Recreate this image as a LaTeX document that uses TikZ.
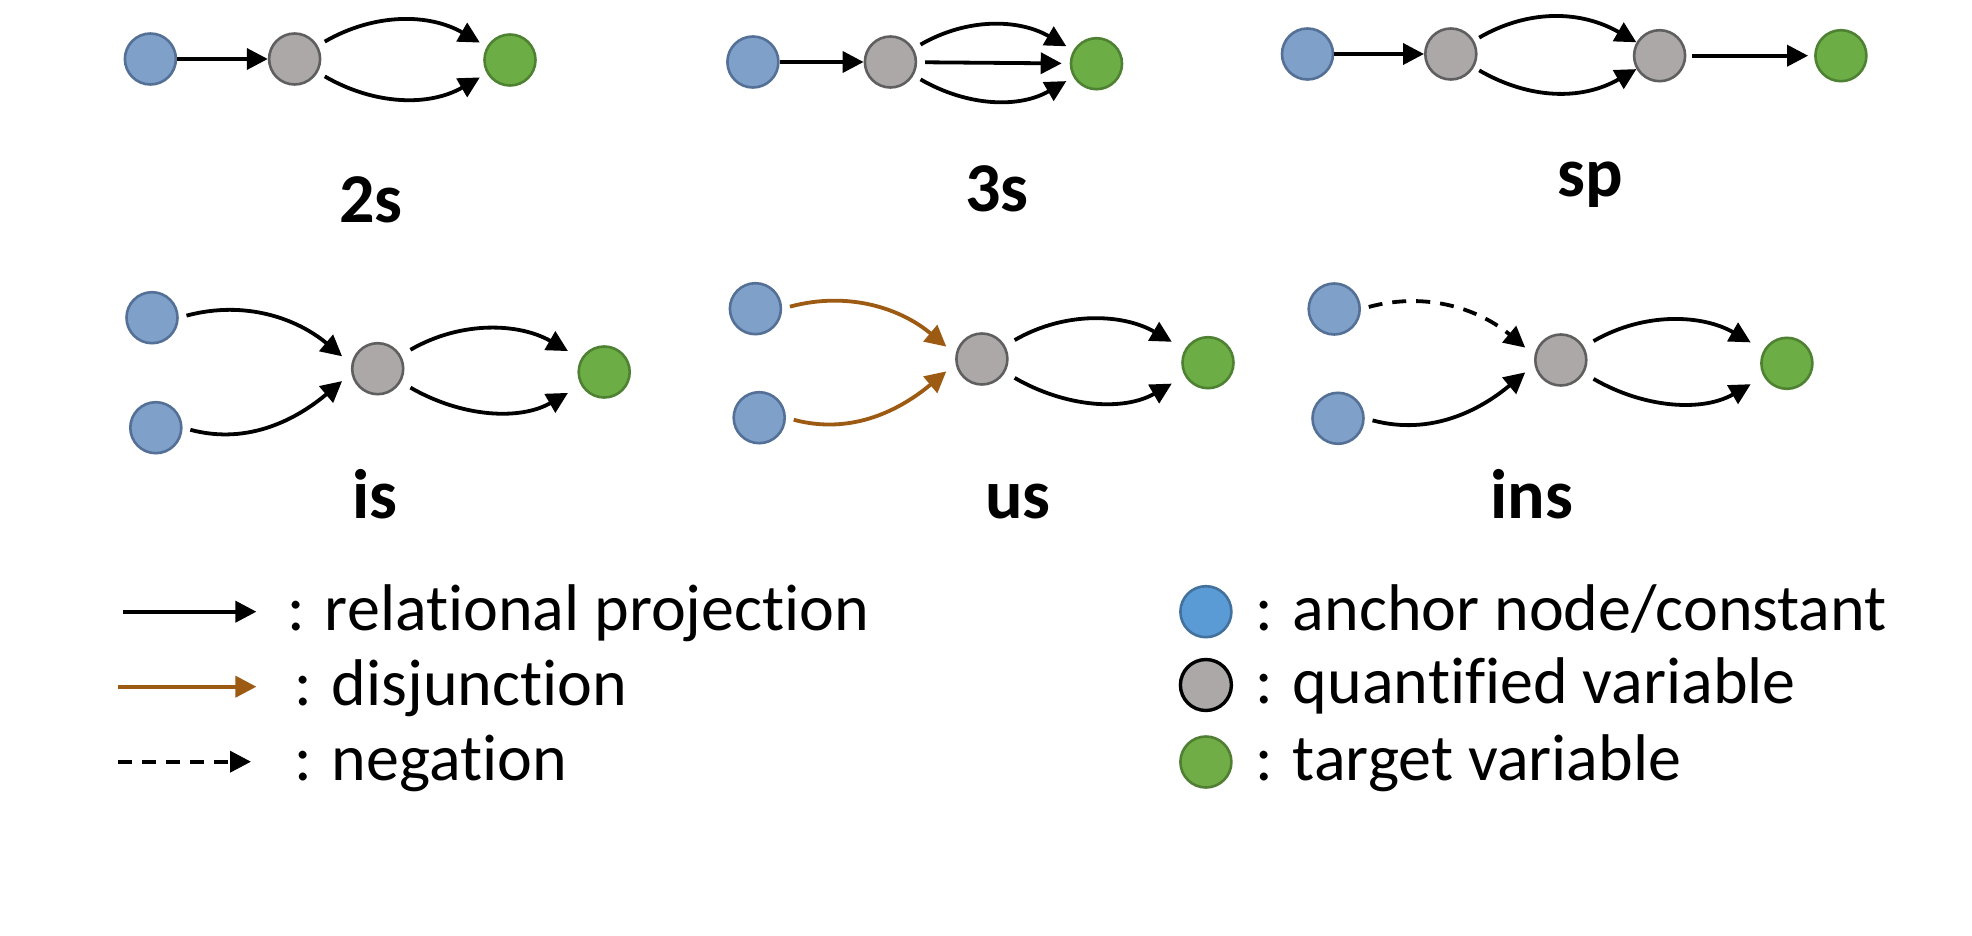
\documentclass[tikz,border=0pt]{standalone}
\usepackage{fontspec}
\setmainfont{Carlito}[Ligatures=NoCommon]
\usetikzlibrary{arrows.meta}
\definecolor{ancF}{RGB}{127,160,200}
\definecolor{ancD}{RGB}{84,112,150}
\definecolor{qF}{RGB}{172,168,168}
\definecolor{qD}{RGB}{95,95,95}
\definecolor{tF}{RGB}{108,173,70}
\definecolor{tD}{RGB}{78,130,50}
\definecolor{brn}{RGB}{156,90,18}
\definecolor{lgAncF}{RGB}{91,155,213}
\definecolor{lgAncD}{RGB}{65,113,156}
\definecolor{lgTF}{RGB}{112,173,71}
\definecolor{lgTD}{RGB}{80,126,50}
\begin{document}
\begin{tikzpicture}[x=0.5pt,y=0.5pt,
  vtx/.style={circle, draw, line width=1.3pt, minimum size=25.5pt, inner sep=0pt},
  anc/.style={vtx, fill=ancF, draw=ancD},
  qv/.style={vtx, fill=qF, draw=qD},
  tv/.style={vtx, fill=tF, draw=tD},
  rel/.style={line width=1.9pt, -{Triangle[length=10.5pt,width=10.5pt]}},
  dis/.style={rel, draw=brn},
  neg/.style={rel, dash pattern=on 7pt off 5pt},
  lbl/.style={font=\bfseries\fontsize{35pt}{40pt}\selectfont, anchor=base, inner sep=0pt},
  leg/.style={font=\fontsize{33pt}{38pt}\selectfont, anchor=base west, inner sep=0pt}]
\useasboundingbox (0,0) rectangle (1972,-936);
\fill[white] (0,0) rectangle (1972,-936);

% 2s
\node[anc] (a1) at (150.4,-59) {};
\node[qv] (b1) at (294.6,-59) {};
\node[tv] (c1) at (510,-60) {};
\draw[rel] (a1) -- (b1);
\draw[rel, shorten <=4pt, shorten >=4pt] (b1) to[out=30,in=150] (c1);
\draw[rel, shorten <=4pt, shorten >=4pt] (b1) to[out=-30,in=-150] (c1);
\node[lbl] (l1) at (371,-223) {2s};

% 3s
\node[anc] (a2) at (752.9,-62) {};
\node[qv] (b2) at (890.4,-62) {};
\node[tv] (c2) at (1096.5,-63.7) {};
\draw[rel] (a2) -- (b2);
\draw[rel, shorten <=4pt, shorten >=4pt] (b2) to[out=30,in=150] (c2);
\draw[rel, shorten <=4pt, shorten >=4pt] (b2) -- (c2);
\draw[rel, shorten <=4pt, shorten >=4pt] (b2) to[out=-30,in=-150] (c2);
\node[lbl] (l2) at (997,-212) {3s};

% sp
\node[anc] (a3) at (1307.5,-54) {};
\node[qv] (b3) at (1450.8,-54) {};
\node[qv] (d3) at (1659.6,-55.7) {};
\node[tv] (c3) at (1840.9,-55.7) {};
\draw[rel] (a3) -- (b3);
\draw[rel, shorten <=3pt] (b3) to[out=30,in=150] (d3);
\draw[rel, shorten <=3pt] (b3) to[out=-30,in=-150] (d3);
\draw[rel, shorten <=3pt, shorten >=3pt] (d3) -- (c3);
\node[lbl] (l3) at (1590,-197) {sp};

% is
\node[anc] (a4) at (152,-317.7) {};
\node[anc] (e4) at (155.8,-427.7) {};
\node[qv] (b4) at (377.7,-368.7) {};
\node[tv] (c4) at (604.2,-372) {};
\draw[rel, shorten <=4pt, shorten >=6pt] (a4.east) to[out=15,in=140] (b4.170);
\draw[rel, shorten <=4pt, shorten >=6pt] (e4.east) to[out=-15,in=-140] (b4.190);
\draw[rel, shorten <=5.5pt, shorten >=7.5pt] (b4) to[out=30,in=150] (c4);
\draw[rel, shorten <=5.5pt, shorten >=7.5pt] (b4) to[out=-30,in=-150] (c4);
\node[lbl] (l4) at (375,-518) {is};

% us
\node[anc] (a5) at (755.4,-308.7) {};
\node[anc] (e5) at (759.2,-417.7) {};
\node[qv] (b5) at (981.9,-359) {};
\node[tv] (c5) at (1208,-362.7) {};
\draw[dis, shorten <=4pt, shorten >=6pt] (a5.east) to[out=15,in=140] (b5.170);
\draw[dis, shorten <=4pt, shorten >=6pt] (e5.east) to[out=-15,in=-140] (b5.190);
\draw[rel, shorten <=5.5pt, shorten >=7.5pt] (b5) to[out=30,in=150] (c5);
\draw[rel, shorten <=5.5pt, shorten >=7.5pt] (b5) to[out=-30,in=-150] (c5);
\node[lbl] (l5) at (1018,-518) {us};

% ins
\node[anc] (a6) at (1334.2,-309) {};
\node[anc] (e6) at (1338,-418.3) {};
\node[qv] (b6) at (1560.8,-360) {};
\node[tv] (c6) at (1786.9,-363.3) {};
\draw[neg, shorten <=4pt, shorten >=6pt] (a6.east) to[out=15,in=140] (b6.170);
\draw[rel, shorten <=4pt, shorten >=6pt] (e6.east) to[out=-15,in=-140] (b6.190);
\draw[rel, shorten <=5.5pt, shorten >=7.5pt] (b6) to[out=30,in=150] (c6);
\draw[rel, shorten <=5.5pt, shorten >=7.5pt] (b6) to[out=-30,in=-150] (c6);
\node[lbl] (l6) at (1532,-518) {ins};

% legend, left
\coordinate (r1s) at (123,-611.7);
\coordinate (r1e) at (256.4,-611.7);
\draw[rel] (r1s) -- (r1e);
\node[leg] (t1) at (287,-630) {: relational projection};
\coordinate (r2s) at (118,-686.7);
\coordinate (r2e) at (256.4,-686.7);
\draw[dis] (r2s) -- (r2e);
\node[leg] (t2) at (294,-705) {: disjunction};
\coordinate (r3s) at (118,-761.7);
\coordinate (r3e) at (251,-761.7);
\draw[neg] (r3s) -- (r3e);
\node[leg] (t3) at (294,-780) {: negation};

% legend, right
\node[vtx, fill=lgAncF, draw=lgAncD, line width=1.3pt] (k1) at (1205.9,-611.7) {};
\node[leg] (u1) at (1255,-630) {: anchor node/constant};
\node[vtx, fill=qF, draw=black, line width=1.7pt] (k2) at (1205.9,-685) {};
\node[leg] (u2) at (1255,-703) {: quantified variable};
\node[vtx, fill=lgTF, draw=lgTD, line width=1.3pt] (k3) at (1205.9,-762) {};
\node[leg] (u3) at (1255,-780) {: target variable};
\end{tikzpicture}
\end{document}
